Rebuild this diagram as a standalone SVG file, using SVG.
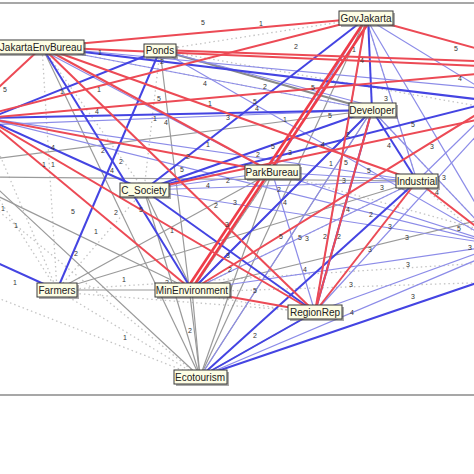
<svg xmlns="http://www.w3.org/2000/svg" width="474" height="474" viewBox="0 0 474 474">
<style>
.r{stroke:#ec4a55;stroke-width:2;fill:none}
.r2{stroke:#ee3c48;stroke-width:2.6;fill:none}
.b{stroke:#4444e2;stroke-width:2;fill:none}
.lb{stroke:#8c8ce8;stroke-width:1.2;fill:none}
.g{stroke:#9a9a9a;stroke-width:1.2;fill:none}
.g2{stroke:#8a8a8a;stroke-width:2.2;fill:none}
.d{stroke:#c4c4c4;stroke-width:1.3;stroke-dasharray:1.5 3;fill:none}
.lab{font-family:"Liberation Sans",Arial,sans-serif;font-size:7px;fill:#333;text-anchor:middle}
.nt{font-family:"Liberation Sans",Arial,sans-serif;font-size:10px;fill:#222;text-anchor:middle}
.box{fill:#fdfde4;stroke:#3a3a3a;stroke-width:1}
.sh{fill:#666;opacity:0.55}
</style>
<rect x="-2" y="3" width="478" height="392" fill="#fff" stroke="#8a8a8a" stroke-width="1.5"/>
<g id="connectors">
<g id="dotted">
<line class="d" x1="57" y1="292" x2="315" y2="312"/>
<line class="d" x1="57" y1="290" x2="200" y2="377"/>
<line class="d" x1="57" y1="290" x2="144" y2="190"/>
<line class="d" x1="57" y1="290" x2="-15" y2="120"/>
<line class="d" x1="57" y1="290" x2="42" y2="47"/>
<line class="d" x1="192" y1="293" x2="315" y2="315"/>
<line class="d" x1="192" y1="292" x2="500" y2="282"/>
<line class="d" x1="160" y1="50" x2="500" y2="110"/>
<line class="d" x1="160" y1="50" x2="366" y2="18"/>
<line class="d" x1="42" y1="47" x2="144" y2="190"/>
<line class="d" x1="160" y1="50" x2="144" y2="190"/>
<line class="d" x1="372" y1="110" x2="500" y2="245"/>
<line class="d" x1="272" y1="172" x2="500" y2="235"/>
<line class="d" x1="417" y1="181" x2="500" y2="255"/>
<line class="d" x1="200" y1="377" x2="-15" y2="293"/>
<line class="d" x1="-15" y1="177" x2="57" y2="290"/>
<line class="d" x1="144" y1="190" x2="372" y2="110"/>
<line class="d" x1="192" y1="290" x2="272" y2="172"/>
<line class="d" x1="192" y1="290" x2="417" y2="181"/>
<line class="d" x1="315" y1="312" x2="417" y2="181"/>
<line class="d" x1="42" y1="47" x2="372" y2="110"/>
<line class="d" x1="366" y1="18" x2="417" y2="181"/>
<line class="d" x1="-15" y1="200" x2="200" y2="377"/>
<line class="d" x1="57" y1="290" x2="500" y2="262"/>
</g>
<g id="gray">
<line class="g2" x1="160" y1="50" x2="372" y2="110"/>
<line class="g" x1="42" y1="47" x2="200" y2="377"/>
<line class="g" x1="-15" y1="177" x2="417" y2="181"/>
<line class="g" x1="-15" y1="160" x2="372" y2="110"/>
<line class="g" x1="-15" y1="177" x2="200" y2="377"/>
<line class="g" x1="-15" y1="190" x2="192" y2="290"/>
<line class="g" x1="57" y1="290" x2="272" y2="172"/>
<line class="g" x1="57" y1="290" x2="417" y2="181"/>
<line class="g" x1="57" y1="290" x2="192" y2="290"/>
<line class="g" x1="200" y1="377" x2="144" y2="190"/>
<line class="g" x1="200" y1="377" x2="160" y2="50"/>
<line class="g" x1="200" y1="377" x2="272" y2="172"/>
<line class="g" x1="200" y1="377" x2="372" y2="110"/>
<line class="g" x1="200" y1="377" x2="315" y2="312"/>
<line class="g" x1="200" y1="377" x2="192" y2="290"/>
<line class="g" x1="366" y1="18" x2="200" y2="377"/>
<line class="g" x1="192" y1="290" x2="500" y2="215"/>
<line class="g" x1="144" y1="190" x2="192" y2="290"/>
<line class="g" x1="272" y1="172" x2="192" y2="290"/>
</g>
<g id="lightblue">
<line class="lb" x1="366" y1="18" x2="417" y2="181"/>
<line class="lb" x1="366" y1="18" x2="500" y2="100"/>
<line class="lb" x1="366" y1="18" x2="500" y2="245"/>
<line class="lb" x1="366" y1="18" x2="272" y2="172"/>
<line class="lb" x1="42" y1="47" x2="372" y2="110"/>
<line class="lb" x1="42" y1="50" x2="272" y2="172"/>
<line class="lb" x1="372" y1="110" x2="500" y2="245"/>
<line class="lb" x1="372" y1="110" x2="200" y2="377"/>
<line class="lb" x1="272" y1="172" x2="417" y2="181"/>
<line class="lb" x1="272" y1="172" x2="315" y2="312"/>
<line class="lb" x1="272" y1="172" x2="500" y2="245"/>
<line class="lb" x1="144" y1="190" x2="417" y2="181"/>
<line class="lb" x1="144" y1="190" x2="500" y2="245"/>
<line class="lb" x1="315" y1="312" x2="500" y2="245"/>
<line class="lb" x1="200" y1="377" x2="500" y2="250"/>
<line class="lb" x1="192" y1="290" x2="500" y2="245"/>
<line class="lb" x1="192" y1="290" x2="417" y2="181"/>
<line class="lb" x1="-15" y1="118" x2="417" y2="181"/>
<line class="lb" x1="-15" y1="118" x2="500" y2="245"/>
<line class="lb" x1="160" y1="50" x2="500" y2="245"/>
<line class="lb" x1="315" y1="312" x2="500" y2="110"/>
<line class="lb" x1="42" y1="47" x2="500" y2="90"/>
<line class="lb" x1="160" y1="50" x2="372" y2="106"/>
<line class="lb" x1="144" y1="190" x2="272" y2="172"/>
<line class="lb" x1="192" y1="290" x2="372" y2="110"/>
<line class="lb" x1="417" y1="181" x2="500" y2="100"/>
<line class="lb" x1="366" y1="18" x2="315" y2="312"/>
<line class="lb" x1="-15" y1="125" x2="372" y2="110"/>
</g>
<g id="blue">
<line class="b" x1="366" y1="18" x2="144" y2="190"/>
<line class="b" x1="368" y1="18" x2="372" y2="110"/>
<line class="b" x1="-15" y1="118" x2="372" y2="110"/>
<line class="b" x1="42" y1="47" x2="500" y2="102"/>
<line class="b" x1="160" y1="50" x2="-15" y2="120"/>
<line class="b" x1="160" y1="50" x2="57" y2="290"/>
<line class="b" x1="42" y1="47" x2="192" y2="290"/>
<line class="b" x1="372" y1="110" x2="144" y2="190"/>
<line class="b" x1="372" y1="110" x2="417" y2="181"/>
<line class="b" x1="144" y1="190" x2="315" y2="312"/>
<line class="b" x1="200" y1="377" x2="315" y2="312"/>
<line class="b" x1="200" y1="377" x2="500" y2="275"/>
<line class="b" x1="57" y1="290" x2="-20" y2="255"/>
<line class="b" x1="372" y1="110" x2="192" y2="290"/>
<line class="b" x1="144" y1="190" x2="500" y2="100"/>
<line class="b" x1="372" y1="110" x2="315" y2="312"/>
<line class="b" x1="200" y1="377" x2="417" y2="181"/>
<line class="b" x1="-15" y1="118" x2="144" y2="190"/>
</g>
<g id="red">
<line class="r" x1="366" y1="18" x2="42" y2="47"/>
<line class="r" x1="366" y1="18" x2="-15" y2="115"/>
<line class="r2" x1="362" y1="25" x2="190" y2="284"/>
<line class="r2" x1="367" y1="25" x2="195" y2="284"/>
<line class="r" x1="366" y1="18" x2="315" y2="312"/>
<line class="r" x1="366" y1="18" x2="500" y2="55"/>
<line class="r" x1="42" y1="47" x2="500" y2="67"/>
<line class="r" x1="-15" y1="118" x2="500" y2="72"/>
<line class="r" x1="42" y1="47" x2="417" y2="181"/>
<line class="r" x1="42" y1="47" x2="315" y2="312"/>
<line class="r" x1="42" y1="47" x2="-15" y2="100"/>
<line class="r" x1="42" y1="47" x2="272" y2="172"/>
<line class="r" x1="-15" y1="118" x2="272" y2="172"/>
<line class="r" x1="-15" y1="118" x2="315" y2="312"/>
<line class="r" x1="-15" y1="118" x2="192" y2="290"/>
<line class="r" x1="192" y1="290" x2="500" y2="100"/>
<line class="r" x1="315" y1="312" x2="417" y2="181"/>
<line class="r" x1="315" y1="312" x2="372" y2="110"/>
<line class="r" x1="417" y1="181" x2="500" y2="245"/>
<line class="r" x1="144" y1="190" x2="500" y2="115"/>
<line class="r" x1="192" y1="290" x2="315" y2="312"/>
<line class="r" x1="160" y1="50" x2="500" y2="62"/>
</g>
<g id="labels">
<text class="lab" x="100" y="55">1</text><text class="lab" x="5" y="92">5</text><text class="lab" x="62" y="94">1</text><text class="lab" x="99" y="92">1</text><text class="lab" x="159" y="101">5</text><text class="lab" x="97" y="114">4</text><text class="lab" x="155" y="121">1</text>
<text class="lab" x="203" y="25">5</text><text class="lab" x="261" y="26">1</text><text class="lab" x="296" y="49">2</text><text class="lab" x="162" y="64">2</text><text class="lab" x="205" y="86">4</text><text class="lab" x="265" y="89">2</text><text class="lab" x="210" y="106">1</text><text class="lab" x="255" y="104">5</text><text class="lab" x="257" y="111">4</text><text class="lab" x="166" y="125">4</text><text class="lab" x="228" y="120">3</text><text class="lab" x="285" y="122">1</text>
<text class="lab" x="354" y="52">1</text><text class="lab" x="362" y="63">4</text><text class="lab" x="456" y="51">5</text><text class="lab" x="460" y="81">4</text><text class="lab" x="313" y="90">5</text><text class="lab" x="386" y="101">3</text><text class="lab" x="330" y="118">5</text><text class="lab" x="413" y="127">5</text>
<text class="lab" x="53" y="150">4</text><text class="lab" x="103" y="153">2</text><text class="lab" x="121" y="164">2</text><text class="lab" x="44" y="167">1</text><text class="lab" x="53" y="167">1</text><text class="lab" x="112" y="173">4</text><text class="lab" x="3" y="211">1</text><text class="lab" x="73" y="214">5</text><text class="lab" x="116" y="215">2</text><text class="lab" x="141" y="212">5</text><text class="lab" x="16" y="228">1</text><text class="lab" x="96" y="234">1</text>
<text class="lab" x="208" y="147">1</text><text class="lab" x="273" y="149">5</text><text class="lab" x="290" y="155">3</text><text class="lab" x="258" y="157">2</text><text class="lab" x="188" y="159">2</text><text class="lab" x="182" y="172">5</text><text class="lab" x="208" y="188">4</text><text class="lab" x="228" y="183">2</text><text class="lab" x="279" y="192">2</text><text class="lab" x="285" y="205">4</text><text class="lab" x="216" y="208">2</text><text class="lab" x="235" y="205">3</text><text class="lab" x="172" y="233">1</text><text class="lab" x="227" y="227">3</text><text class="lab" x="281" y="239">5</text><text class="lab" x="300" y="240">5</text><text class="lab" x="307" y="241">3</text>
<text class="lab" x="348" y="137">2</text><text class="lab" x="323" y="147">4</text><text class="lab" x="389" y="148">4</text><text class="lab" x="432" y="149">3</text><text class="lab" x="331" y="166">1</text><text class="lab" x="346" y="165">5</text><text class="lab" x="369" y="173">5</text><text class="lab" x="344" y="183">3</text><text class="lab" x="382" y="190">3</text><text class="lab" x="444" y="180">3</text><text class="lab" x="437" y="195">4</text><text class="lab" x="348" y="212">4</text><text class="lab" x="371" y="217">2</text><text class="lab" x="390" y="229">3</text><text class="lab" x="459" y="231">5</text><text class="lab" x="325" y="239">2</text><text class="lab" x="339" y="239">2</text><text class="lab" x="407" y="240">3</text><text class="lab" x="470" y="250">3</text>
<text class="lab" x="15" y="285">1</text><text class="lab" x="76" y="256">2</text><text class="lab" x="124" y="282">1</text><text class="lab" x="125" y="340">1</text>
<text class="lab" x="228" y="258">3</text><text class="lab" x="230" y="272">2</text><text class="lab" x="305" y="272">4</text><text class="lab" x="167" y="285">2</text><text class="lab" x="255" y="293">5</text><text class="lab" x="190" y="333">2</text><text class="lab" x="255" y="338">2</text>
<text class="lab" x="370" y="252">3</text><text class="lab" x="408" y="267">3</text><text class="lab" x="351" y="287">3</text><text class="lab" x="413" y="299">3</text><text class="lab" x="352" y="315">4</text>
</g>
</g>
<g id="GovJakarta"><rect class="sh" x="341" y="13" width="54" height="14"/><rect class="box" x="339" y="11" width="54" height="14"/><text class="nt" x="366" y="22">GovJakarta</text></g>
<g id="JakartaEnvBureau"><rect class="sh" x="-1" y="42" width="87" height="14"/><rect class="box" x="-3" y="40" width="87" height="14"/><text class="nt" x="41" y="51">JakartaEnvBureau</text></g>
<g id="Ponds"><rect class="sh" x="146" y="46" width="32" height="13"/><rect class="box" x="144" y="44" width="32" height="13"/><text class="nt" x="160" y="54">Ponds</text></g>
<g id="Developer"><rect class="sh" x="351" y="105" width="47" height="14"/><rect class="box" x="349" y="103" width="47" height="14"/><text class="nt" x="372" y="114">Developer</text></g>
<g id="ParkBureau"><rect class="sh" x="247" y="167" width="55" height="14"/><rect class="box" x="245" y="165" width="55" height="14"/><text class="nt" x="272" y="176">ParkBureau</text></g>
<g id="C_Society"><rect class="sh" x="122" y="185" width="49" height="14"/><rect class="box" x="120" y="183" width="49" height="14"/><text class="nt" x="144" y="194">C_Society</text></g>
<g id="Industrial"><rect class="sh" x="398" y="176" width="42" height="14"/><rect class="box" x="396" y="174" width="42" height="14"/><text class="nt" x="417" y="185">Industrial</text></g>
<g id="Farmers"><rect class="sh" x="39" y="285" width="40" height="14"/><rect class="box" x="37" y="283" width="40" height="14"/><text class="nt" x="57" y="294">Farmers</text></g>
<g id="MinEnvironment"><rect class="sh" x="157" y="285" width="75" height="14"/><rect class="box" x="155" y="283" width="75" height="14"/><text class="nt" x="192" y="294">MinEnvironment</text></g>
<g id="RegionRep"><rect class="sh" x="290" y="307" width="54" height="14"/><rect class="box" x="288" y="305" width="54" height="14"/><text class="nt" x="315" y="316">RegionRep</text></g>
<g id="Ecotourism"><rect class="sh" x="176" y="372" width="53" height="14"/><rect class="box" x="174" y="370" width="53" height="14"/><text class="nt" x="200" y="381">Ecotourism</text></g>
</svg>
